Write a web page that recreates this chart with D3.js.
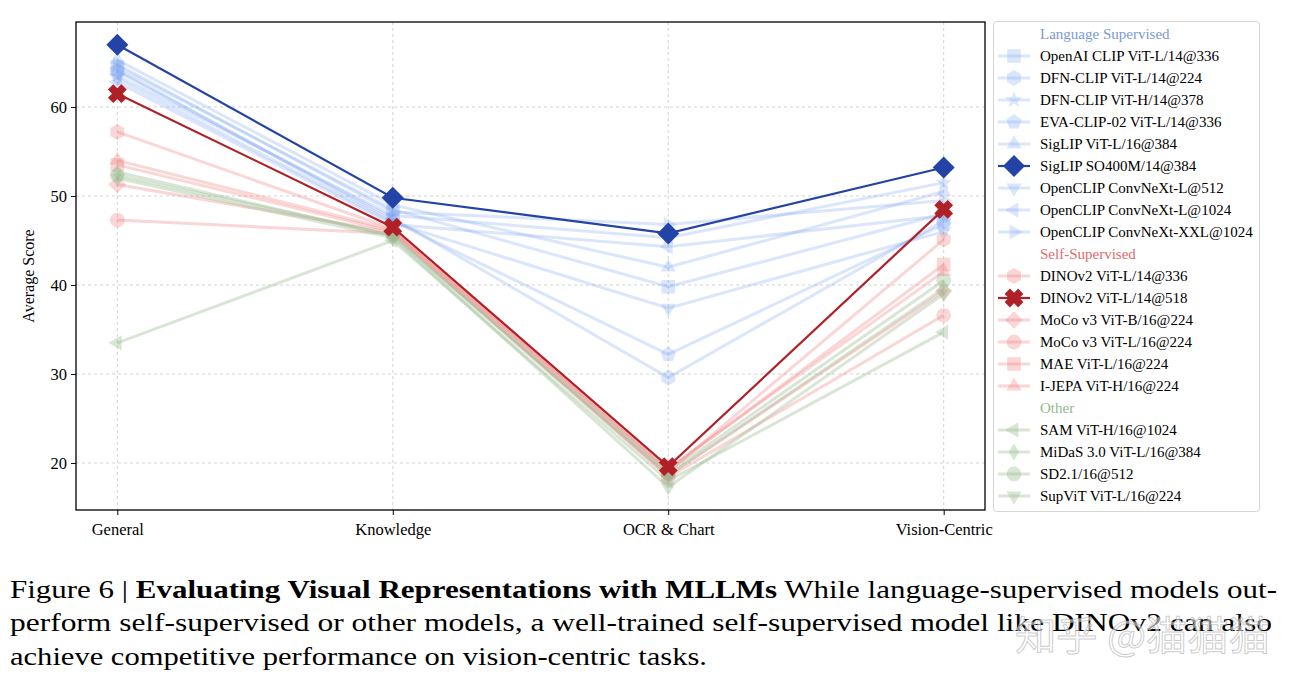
<!DOCTYPE html>
<html>
<head>
<meta charset="utf-8">
<script src="https://cdn.jsdelivr.net/npm/d3@7/dist/d3.min.js"></script>
<style>
html,body{margin:0;padding:0;background:#fff;}
svg{display:block;}
</style>
</head>
<body>
<svg id="chart" width="1303" height="691"></svg>
<script>
// ---------------- data ----------------
const categories = ["General", "Knowledge", "OCR & Chart", "Vision-Centric"];
const yTicks = [20, 30, 40, 50, 60];

const groups = ["Language Supervised", "Self-Supervised", "Other"];

const langNames = ["OpenAI CLIP ViT-L/14@336", "DFN-CLIP ViT-L/14@224", "DFN-CLIP ViT-H/14@378",
  "EVA-CLIP-02 ViT-L/14@336", "SigLIP ViT-L/16@384", "SigLIP SO400M/14@384",
  "OpenCLIP ConvNeXt-L@512", "OpenCLIP ConvNeXt-L@1024", "OpenCLIP ConvNeXt-XXL@1024"];
const langMarkers = ["square", "hexagon", "star", "pentagon", "triUp", "diamond", "triDown", "triLeft", "triRight"];
const langValues = [
  [64.5, 48.5, 39.8, 48.0],
  [64.0, 47.5, 29.6, 47.2],
  [63.5, 47.8, 45.3, 51.5],
  [64.2, 47.2, 32.2, 46.8],
  [65.3, 49.0, 42.0, 50.5],
  [67.0, 49.8, 45.8, 53.2],
  [63.2, 47.0, 37.4, 46.0],
  [62.8, 46.8, 44.3, 47.8],
  [64.8, 48.2, 46.8, 49.5]
];

const selfNames = ["DINOv2 ViT-L/14@336", "DINOv2 ViT-L/14@518", "MoCo v3 ViT-B/16@224",
  "MoCo v3 ViT-L/16@224", "MAE ViT-L/16@224", "I-JEPA ViT-H/16@224"];
const selfMarkers = ["hexagon", "xfilled", "diamond", "circle", "square", "triUp"];
const selfValues = [
  [57.2, 46.3, 19.0, 45.1],
  [61.5, 46.5, 19.6, 48.5],
  [51.3, 45.9, 18.6, 39.3],
  [47.3, 45.8, 18.4, 36.6],
  [53.5, 46.0, 19.2, 42.3],
  [54.0, 46.2, 19.4, 41.5]
];

const otherNames = ["SAM ViT-H/16@1024", "MiDaS 3.0 ViT-L/16@384", "SD2.1/16@512", "SupViT ViT-L/16@224"];
const otherMarkers = ["triLeft", "thinDiamond", "circle", "triDown"];
const otherValues = [
  [33.5, 45.0, 18.0, 34.7],
  [52.7, 45.5, 18.6, 39.6],
  [52.3, 45.6, 18.9, 40.5],
  [52.0, 45.3, 17.3, 39.0]
];

const highlighted = ["SigLIP SO400M/14@384", "DINOv2 ViT-L/14@518"];

const captionLines = [
  [["Figure 6 | ", "normal"], ["Evaluating Visual Representations with MLLMs", "bold"], [" While language-supervised models out-", "normal"]],
  [["perform self-supervised or other models, a well-trained self-supervised model like DINOv2 can also", "normal"]],
  [["achieve competitive performance on vision-centric tasks.", "normal"]]
];

// ---------------- styles ----------------
const groupStyle = {
  "Language Supervised": {color: "rgb(110,155,240)", head: "#7b9ad6", alpha: 0.25},
  "Self-Supervised": {color: "rgb(240,128,128)", head: "#e06c6c", alpha: 0.32},
  "Other": {color: "rgb(150,185,140)", head: "#93b98b", alpha: 0.36}
};
const hiColor = {"SigLIP SO400M/14@384": "#2443a6", "DINOv2 ViT-L/14@518": "#b02127"};

const series = [];
function addGroup(g, names, markers, values) {
  names.forEach((n, i) => series.push({name: n, group: g, marker: markers[i], values: values[i]}));
}
addGroup("Language Supervised", langNames, langMarkers, langValues);
addGroup("Self-Supervised", selfNames, selfMarkers, selfValues);
addGroup("Other", otherNames, otherMarkers, otherValues);

// ---------------- layout ----------------
const FONT = "'Liberation Serif', 'DejaVu Serif', serif";
const svg = d3.select("#chart");
const plot = {left: 76, right: 985, top: 22, bottom: 510};

const x = d3.scaleLinear().domain([-0.15, 3.15]).range([plot.left, plot.right]);
const y = d3.scaleLinear().domain([14.72, 69.55]).range([plot.bottom, plot.top]);

// marker shapes
function poly(n, r, start) {
  const pts = [];
  for (let k = 0; k < n; k++) {
    const a = start + k * 2 * Math.PI / n;
    pts.push([r * Math.cos(a), r * Math.sin(a)]);
  }
  return "M" + pts.map(p => p[0].toFixed(2) + "," + p[1].toFixed(2)).join("L") + "Z";
}
function shapePath(type, r) {
  const up = -Math.PI / 2;
  switch (type) {
    case "square": { const s = r * 0.85; return `M${-s},${-s}L${s},${-s}L${s},${s}L${-s},${s}Z`; }
    case "circle": return d3.symbol(d3.symbolCircle, Math.PI * r * r * 0.85)();
    case "hexagon": return poly(6, r, up);
    case "pentagon": return poly(5, r, up);
    case "triUp": return poly(3, r * 1.1, up);
    case "triDown": return poly(3, r * 1.1, Math.PI / 2);
    case "triLeft": return poly(3, r * 1.1, Math.PI);
    case "triRight": return poly(3, r * 1.1, 0);
    case "diamond": return `M0,${-r * 1.1}L${r * 1.1},0L0,${r * 1.1}L${-r * 1.1},0Z`;
    case "thinDiamond": return `M0,${-r * 1.1}L${r * 0.65},0L0,${r * 1.1}L${-r * 0.65},0Z`;
    case "star": {
      const pts = [];
      for (let k = 0; k < 10; k++) {
        const rr = k % 2 === 0 ? r * 1.1 : r * 0.45;
        const a = up + k * Math.PI / 5;
        pts.push([rr * Math.cos(a), rr * Math.sin(a)]);
      }
      return "M" + pts.map(p => p[0].toFixed(2) + "," + p[1].toFixed(2)).join("L") + "Z";
    }
    case "xfilled": {
      const a = r * 0.95, w = r * 0.38;
      const pts = [[-w, -a], [w, -a], [w, -w], [a, -w], [a, w], [w, w], [w, a], [-w, a], [-w, w], [-a, w], [-a, -w], [-w, -w]];
      return "M" + pts.map(p => p[0].toFixed(2) + "," + p[1].toFixed(2)).join("L") + "Z";
    }
  }
}
function seriesStyle(s) {
  if (highlighted.includes(s.name)) {
    return {color: hiColor[s.name], alpha: 1, lw: 2.2, r: 10};
  }
  const g = groupStyle[s.group];
  return {color: g.color, alpha: g.alpha, lw: 3, r: 8};
}
function rotFor(s) { return s.marker === "xfilled" ? 45 : 0; }

// ---------------- grid ----------------
const gGrid = svg.append("g");
yTicks.forEach(t => {
  gGrid.append("line").attr("x1", plot.left).attr("x2", plot.right).attr("y1", y(t)).attr("y2", y(t))
    .attr("stroke", "#c8c8c8").attr("stroke-width", 0.8).attr("stroke-dasharray", "3,3");
});
categories.forEach((c, i) => {
  gGrid.append("line").attr("x1", x(i)).attr("x2", x(i)).attr("y1", plot.top).attr("y2", plot.bottom)
    .attr("stroke", "#c8c8c8").attr("stroke-width", 0.8).attr("stroke-dasharray", "3,3");
});

// ---------------- series ----------------
const line = d3.line().x((d, i) => x(i)).y(d => y(d));
const ordered = series.filter(s => !highlighted.includes(s.name))
  .concat(series.filter(s => s.name === "DINOv2 ViT-L/14@518"))
  .concat(series.filter(s => s.name === "SigLIP SO400M/14@384"));
const gSeries = svg.append("g");
ordered.forEach(s => {
  const st = seriesStyle(s);
  const g = gSeries.append("g");
  g.append("path").attr("d", line(s.values)).attr("fill", "none")
    .attr("stroke", st.color).attr("stroke-opacity", st.alpha).attr("stroke-width", st.lw);
  s.values.forEach((v, i) => {
    g.append("path").attr("d", shapePath(s.marker, st.r))
      .attr("transform", `translate(${x(i)},${y(v)}) rotate(${rotFor(s)})`)
      .attr("fill", st.color).attr("fill-opacity", st.alpha).attr("stroke", "none");
  });
});

// ---------------- axes ----------------
const yAxis = d3.axisLeft(y).tickValues(yTicks).tickSize(5).tickPadding(4);
const xAxis = d3.axisBottom(x).tickValues([0, 1, 2, 3]).tickFormat(i => categories[i]).tickSize(5).tickPadding(8);
const gy = svg.append("g").attr("transform", `translate(${plot.left},0)`).call(yAxis);
const gx = svg.append("g").attr("transform", `translate(0,${plot.bottom})`).call(xAxis);
[gx, gy].forEach(g => {
  g.select(".domain").remove();
  g.selectAll(".tick line").attr("stroke", "#000").attr("stroke-width", 1);
  g.selectAll("text").attr("font-family", FONT).attr("font-size", 16.5).attr("fill", "#000");
});
svg.append("rect").attr("x", plot.left).attr("y", plot.top)
  .attr("width", plot.right - plot.left).attr("height", plot.bottom - plot.top)
  .attr("fill", "none").attr("stroke", "#000").attr("stroke-width", 1.3);

svg.append("text").attr("transform", `translate(34,${(plot.top + plot.bottom) / 2 + 10}) rotate(-90)`)
  .attr("text-anchor", "middle").attr("font-family", FONT).attr("font-size", 16).text("Average Score");

// ---------------- legend ----------------
const leg = svg.append("g");
leg.append("rect").attr("x", 993.5).attr("y", 21.5).attr("width", 266).attr("height", 490)
  .attr("rx", 3).attr("fill", "#fff").attr("stroke", "#d6d6d6").attr("stroke-width", 1);
let row = 0;
const rowY = r => 34 + r * 22;
groups.forEach(g => {
  leg.append("text").attr("x", 1040).attr("y", rowY(row) + 5).attr("font-family", FONT).attr("font-size", 15)
    .attr("fill", groupStyle[g].head).text(g);
  row++;
  series.filter(s => s.group === g).forEach(s => {
    const st = seriesStyle(s);
    const cy = rowY(row);
    leg.append("line").attr("x1", 998).attr("x2", 1030).attr("y1", cy).attr("y2", cy)
      .attr("stroke", st.color).attr("stroke-opacity", st.alpha).attr("stroke-width", st.lw);
    leg.append("path").attr("d", shapePath(s.marker, st.r))
      .attr("transform", `translate(1014,${cy}) rotate(${rotFor(s)})`)
      .attr("fill", st.color).attr("fill-opacity", st.alpha);
    leg.append("text").attr("x", 1040).attr("y", cy + 5).attr("font-family", FONT).attr("font-size", 15)
      .attr("fill", "#000").text(s.name);
    row++;
  });
});

// ---------------- caption ----------------
const capY = [598, 631, 665];
const capW = [1267, 1262, 697];
captionLines.forEach((parts, i) => {
  const t = svg.append("text").attr("x", 10).attr("y", capY[i]).attr("font-family", FONT)
    .attr("font-size", 26).attr("fill", "#000")
    .attr("textLength", capW[i]).attr("lengthAdjust", "spacingAndGlyphs");
  parts.forEach(p => t.append("tspan").attr("font-weight", p[1]).text(p[0]));
});

// watermark
svg.append("text").attr("x", 1015).attr("y", 650).attr("font-family", "'Noto Sans CJK SC', sans-serif")
  .attr("font-size", 40).attr("fill", "#ffffff").attr("fill-opacity", 0.55)
  .attr("stroke", "#9a9a9a").attr("stroke-opacity", 0.5).attr("stroke-width", 1)
  .attr("textLength", 255).attr("lengthAdjust", "spacingAndGlyphs")
  .text("知乎 @猫猫猫");
</script>
</body>
</html>
